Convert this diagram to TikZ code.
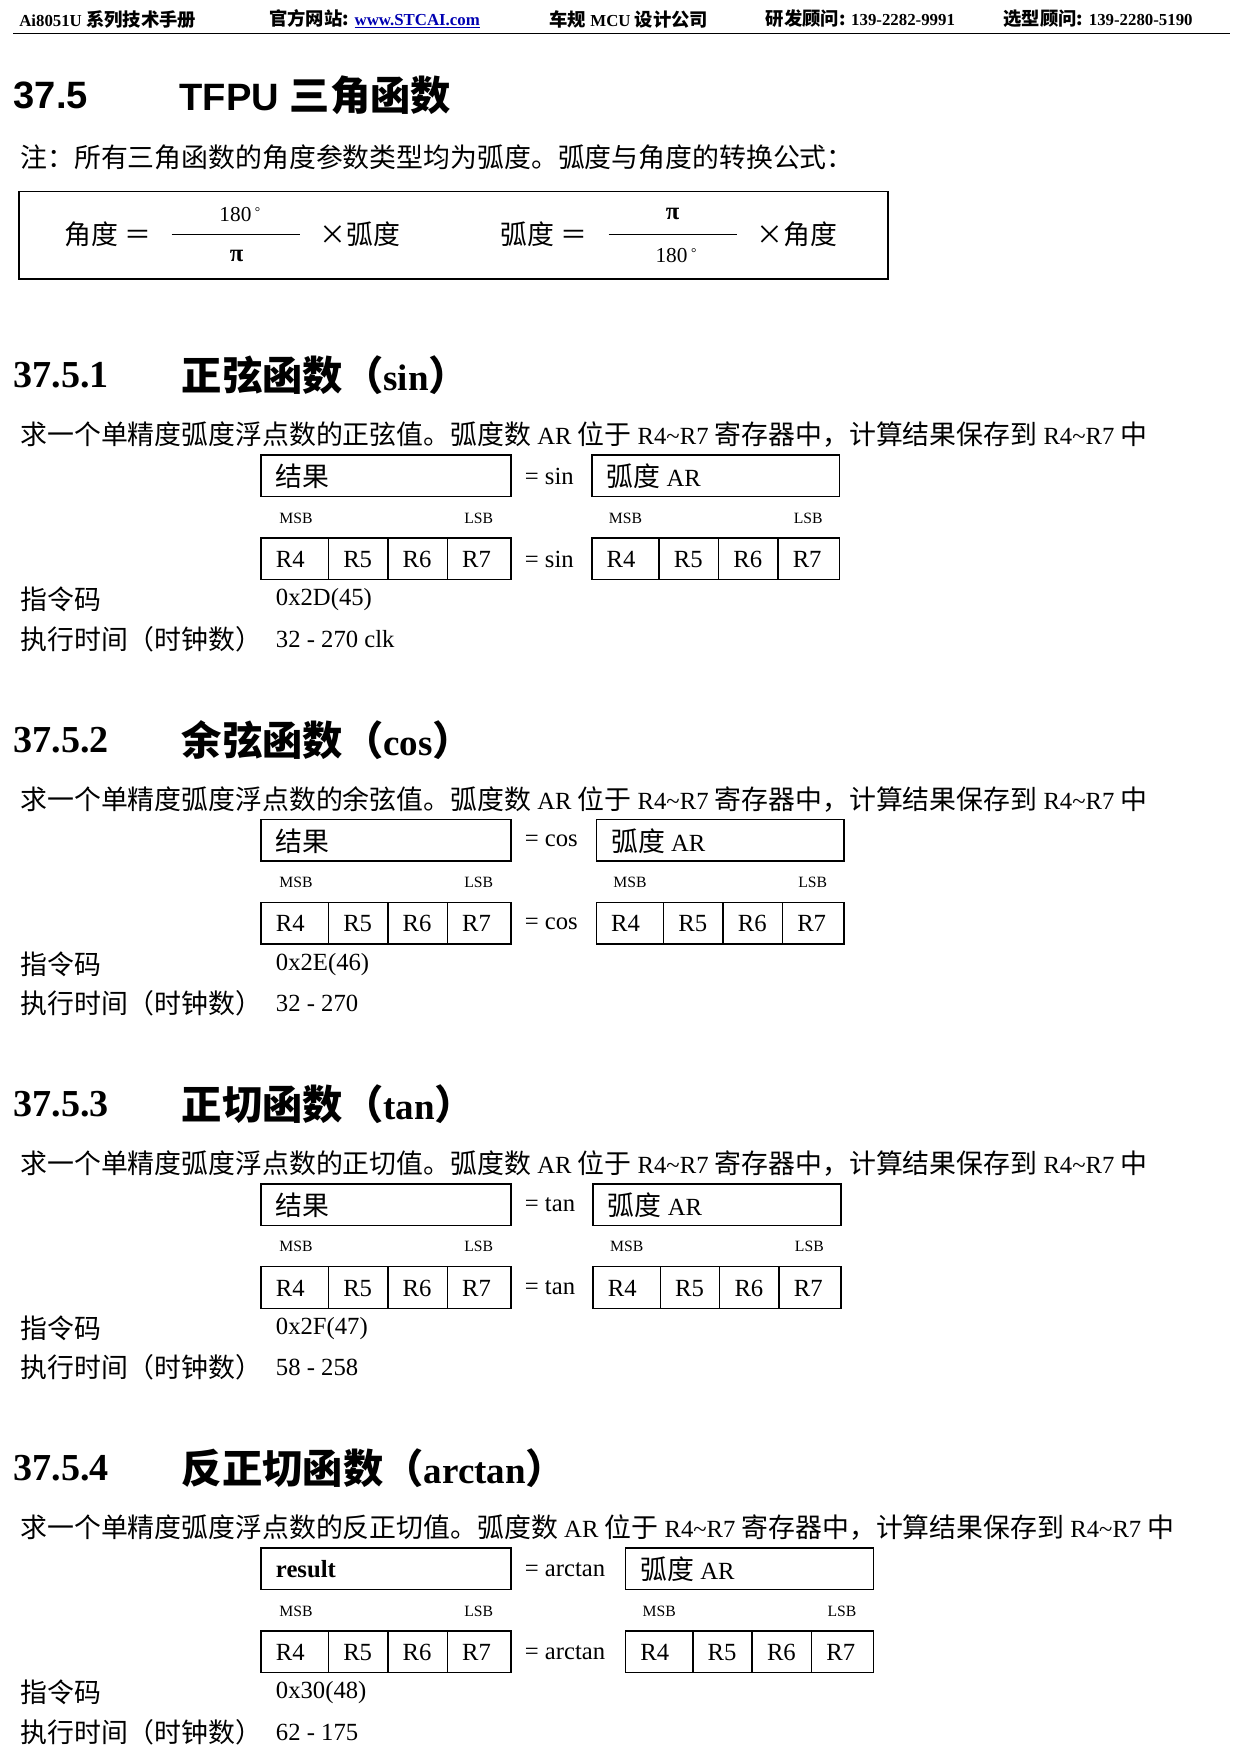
\documentclass[tikz,border=0pt]{standalone}
\usepackage{fontspec}
\setmainfont{Liberation Serif}
\newfontfamily\cjk[Scale=1.09]{Noto Sans CJK SC}
\newfontfamily\hsans{Liberation Sans}
\begin{document}
\begin{tikzpicture}[x=1pt,y=-1pt,
  body/.style={anchor=west,inner sep=0,font=\fontsize{22}{24}\selectfont},
  small/.style={inner sep=0,font=\fontsize{14}{15}\selectfont},
  hdr/.style={anchor=west,inner sep=0,font=\fontsize{15}{17}\selectfont\bfseries},
  sec/.style={anchor=west,inner sep=0,font=\fontsize{34}{38}\selectfont\bfseries},
  bx/.style={draw,line width=1.3pt}]
\useasboundingbox (0,0) rectangle (1100,1570);
\fill[white] (0,0) rectangle (1100,1570);
% header
\node[hdr] (h1) at (17,17) {Ai8051U {\cjk 系列技术手册}};
\node[hdr] (h2) at (240,17) {{\cjk 官方网站:} \textcolor{blue!70!black}{\underline{www.STCAI.com}}};
\node[hdr] (h3) at (490,17) {{\cjk 车规} MCU {\cjk 设计公司}};
\node[hdr] (h4) at (683,17) {{\cjk 研发顾问:} 139-2282-9991};
\node[hdr] (h5) at (895,17) {{\cjk 选型顾问:} 139-2280-5190};
\draw[line width=1pt] (12,30) -- (1097,30);
% 37.5
\node[sec,font=\fontsize{34}{38}\selectfont\bfseries\hsans] (t0) at (12,85) {37.5};
\node[sec,font=\fontsize{34}{38}\selectfont\bfseries\hsans] (t0b) at (160,85) {TFPU {\cjk\fontsize{33}{38}\selectfont 三角函数}};
\node[body] (n0) at (18,140) {\cjk 注：所有三角函数的角度参数类型均为弧度。弧度与角度的转换公式：};
\draw[bx] (17,171) rectangle (792,249);
\node[body] (f1) at (57,209) {{\cjk 角度} {\cjk ＝}};
\draw[line width=1pt] (153,209) -- (268,209);
\node[small,font=\fontsize{19}{20}\selectfont] (f1a) at (214,191) {180\,\raisebox{0.5ex}{\fontsize{12}{12}\selectfont°}};
\node[small,font=\fontsize{22}{22}\selectfont\bfseries] (f1b) at (211,228) {π};
\node[body] (f1c) at (285,209) {{\cjk ×弧度}};
\node[body] (f2) at (446,209) {{\cjk 弧度} {\cjk ＝}};
\draw[line width=1pt] (543,209) -- (657,209);
\node[small,font=\fontsize{22}{22}\selectfont\bfseries] (f2a) at (600,191) {π};
\node[small,font=\fontsize{19}{20}\selectfont] (f2b) at (603,228) {180\,\raisebox{0.5ex}{\fontsize{12}{12}\selectfont°}};
\node[body] (f2c) at (675,209) {{\cjk ×角度}};
% sections
\newcommand{\mysect}[9]{%
\begin{scope}[yshift=-#1pt]
\node[sec] at (12,335) {#2};
\node[sec,font=\fontsize{33}{38}\selectfont\bfseries] at (162,335) {#3};
\node[body] at (18,388) {#4};
\draw[bx] (233,406) rectangle (456,443);
\node[body] at (246,425) {#9};
\node[body] at (468,425) {= #5};
\draw[bx] (#6,406) rectangle (#6+221,443);
\node[body] at (#6+13,425) {{\cjk 弧度} AR};
\node[small] at (264,462) {MSB};
\node[small] at (427,462) {LSB};
\node[small] at (#6+30,462) {MSB};
\node[small] at (#6+193,462) {LSB};
\draw[bx] (233,480) rectangle (456,517);
\foreach \xx in {293,346,399} \draw[bx] (\xx,480) -- (\xx,517);
\node[body] at (246,499) {R4};\node[body] at (306,499) {R5};
\node[body] at (359,499) {R6};\node[body] at (412,499) {R7};
\node[body] at (468,499) {= #5};
\draw[bx] (#6,480) rectangle (#6+221,517);
\foreach \xx in {60,113,166} \draw[bx] (#6+\xx,480) -- (#6+\xx,517);
\node[body] at (#6+13,499) {R4};\node[body] at (#6+73,499) {R5};
\node[body] at (#6+126,499) {R6};\node[body] at (#6+179,499) {R7};
\node[body] at (18,535) {\cjk 指令码};
\node[body] at (246,535) {#7};
\node[body] at (18,570) {\cjk 执行时间（时钟数）};
\node[body] at (246,570) {#8};
\end{scope}}
\newcommand{\desc}[1]{{\cjk 求一个单精度弧度浮点数的#1值。弧度数} AR {\cjk 位于} R4\textasciitilde R7 {\cjk 寄存器中，计算结果保存到} R4\textasciitilde R7 {\cjk 中}}
\mysect{0}{37.5.1}{{\cjk 正弦函数（}sin{\cjk ）}}{\desc{正弦}}{sin}{528}{0x2D(45)}{32 - 270 clk}{\cjk 结果}
\mysect{325}{37.5.2}{{\cjk 余弦函数（}cos{\cjk ）}}{\desc{余弦}}{cos}{532}{0x2E(46)}{32 - 270}{\cjk 结果}
\mysect{650}{37.5.3}{{\cjk 正切函数（}tan{\cjk ）}}{\desc{正切}}{tan}{529}{0x2F(47)}{58 - 258}{\cjk 结果}
\mysect{975}{37.5.4}{{\cjk 反正切函数（}arctan{\cjk ）}}{\desc{反正切}}{arctan}{558}{0x30(48)}{62 - 175}{\textbf{result}}
\end{tikzpicture}
\end{document}
